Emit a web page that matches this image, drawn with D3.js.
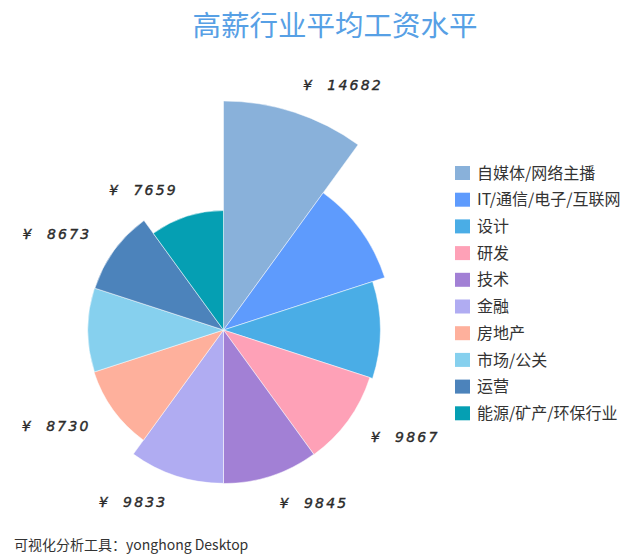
<!DOCTYPE html>
<html>
<head>
<meta charset="utf-8">
<script src="https://cdn.jsdelivr.net/npm/d3@7"></script>
<style>
  body { margin: 0; background: #fff; }
  svg { display: block; }
</style>
</head>
<body>
<svg id="chart"></svg>
<script>
const width = 640;
const height = 558;

// data
const categories = ["自媒体/网络主播", "IT/通信/电子/互联网", "设计", "研发", "技术", "金融", "房地产", "市场/公关", "运营", "能源/矿产/环保行业"];
const salaries = [14682, 10870, 10050, 9867, 9845, 9833, 8730, 8700, 8673, 7659];
const colors = ["#89b1da", "#5e9bfd", "#4aade6", "#fea1b7", "#a280d5", "#b0acf2", "#feb09c", "#86d0ee", "#4c83bb", "#059fb3"];

const data = categories.map((c, i) => ({ name: c, value: salaries[i], color: colors[i] }));

const svg = d3.select("#chart")
  .attr("width", width)
  .attr("height", height);

const cx = 223.5, cy = 330;

const r = d3.scaleLinear()
  .domain([0, d3.max(salaries)])
  .range([0, 229]);

const pie = d3.pie()
  .value(() => 1)
  .sort(null);

const arc = d3.arc()
  .innerRadius(0)
  .outerRadius((d) => r(d.data.value));

const g = svg.append("g")
  .attr("transform", "translate(" + cx + "," + cy + ")");

const slices = pie(data);

g.selectAll("path")
  .data(slices)
  .join("path")
  .attr("d", arc)
  .attr("fill", (d) => d.data.color)
  .attr("stroke", "#fff")
  .attr("stroke-width", 0.5);

// title
svg.append("text")
  .attr("x", 335)
  .attr("y", 36)
  .attr("text-anchor", "middle")
  .attr("font-family", "'Noto Sans CJK SC', sans-serif")
  .attr("font-size", 28.5)
  .attr("fill", "#57a0e5")
  .text("高薪行业平均工资水平");

// legend
const legend = svg.append("g")
  .attr("transform", "translate(455,173)");

const item = legend.selectAll("g")
  .data(data)
  .join("g")
  .attr("transform", (d, i) => "translate(0," + (i * 26.7) + ")");

item.append("rect")
  .attr("x", 0)
  .attr("y", -7)
  .attr("width", 15)
  .attr("height", 14)
  .attr("fill", (d) => d.color);

item.append("text")
  .attr("x", 22)
  .attr("y", 0)
  .attr("dy", "0.35em")
  .attr("font-family", "'Noto Sans CJK SC', sans-serif")
  .attr("font-size", 16)
  .attr("fill", "#333")
  .text((d) => d.name);

const legendBox = legend.node().getBBox();
const lx0 = 455 + legendBox.x - 4, ly0 = 173 + legendBox.y, ly1 = ly0 + legendBox.height;

// value labels, dropped when they collide with the legend or leave the canvas
const labels = g.selectAll("text.val")
  .data(slices)
  .join("text")
  .attr("class", "val")
  .each(function (d) {
    const a = (d.startAngle + d.endAngle) / 2;
    const rr = r(d.data.value) + 28;
    d3.select(this)
      .attr("x", Math.sin(a) * rr)
      .attr("y", -Math.cos(a) * rr)
      .attr("text-anchor", a < Math.PI ? "start" : "end");
  })
  .attr("dy", "0.35em")
  .attr("font-family", "'DejaVu Sans', sans-serif")
  .attr("font-style", "italic")
  .attr("font-size", 14)
  .attr("letter-spacing", 2.2)
  .attr("fill", "#2b2b2b")
  .attr("stroke", "#2b2b2b")
  .attr("stroke-width", 0.4)
  .text((d) => "¥\u00a0\u00a0" + d.data.value);

labels.each(function () {
  const b = this.getBBox();
  const x0 = cx + b.x, x1 = x0 + b.width, y0 = cy + b.y, y1 = y0 + b.height;
  const hitsLegend = x1 > lx0 && y1 > ly0 && y0 < ly1;
  if (x0 < 2 || x1 > width || hitsLegend) d3.select(this).remove();
});

// footer
svg.append("text")
  .attr("x", 14)
  .attr("y", 550)
  .attr("font-family", "'Noto Sans CJK SC', sans-serif")
  .attr("font-size", 14)
  .attr("fill", "#333")
  .text("可视化分析工具：yonghong Desktop");
</script>
</body>
</html>
